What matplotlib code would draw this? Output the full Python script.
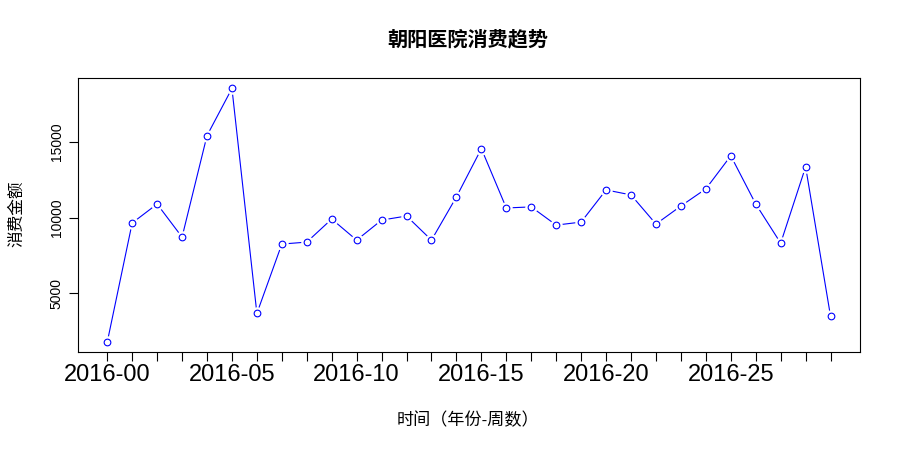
import matplotlib
matplotlib.use("Agg")
import matplotlib.pyplot as plt

plt.rcParams['font.family'] = ['Liberation Sans', 'Noto Sans CJK SC', 'DejaVu Sans']

# weekly spending, 2016 weeks 00..29
weeks = ["2016-%02d" % i for i in range(30)]
spend = [1780, 9640, 10890, 8710, 15400, 18510, 3680, 8250, 8380, 9900,
         8510, 9830, 10100, 8510, 11360, 14540, 10630, 10700, 9500, 9700,
         11820, 11490, 9570, 10760, 11890, 14070, 10890, 8310, 13340, 3480]
yticks = [5000, 10000, 15000]

fig = plt.figure(figsize=(9, 4.5), dpi=100)
ax = fig.add_axes([0.087, 0.217, 0.868, 0.609])

x = list(range(len(spend)))
ax.plot(x, spend, color='blue', lw=0.8, zorder=1)
# R type="b": gaps between line and points
ax.plot(x, spend, ls='none', marker='o', ms=9, mfc='white', mec='none', zorder=2)
ax.plot(x, spend, ls='none', marker='o', ms=4.8, mfc='white', mec='blue', mew=0.8, zorder=3)

lo, hi = min(spend), max(spend)
pad = (hi - lo) * 0.04
ax.set_ylim(lo - pad, hi + pad)
ax.set_xlim(-1.16, len(spend) - 1 + 1.16)

ax.set_xticks(x)
ax.set_xticklabels([w if i % 5 == 0 else "" for i, w in enumerate(weeks)], fontsize=17)
ax.set_yticks(yticks)
ax.set_yticklabels([str(v) for v in yticks], rotation=90, va='center', fontsize=10)
ax.tick_params(axis='both', length=6.5, width=0.8, color='black')
ax.tick_params(axis='x', pad=2)
ax.tick_params(axis='y', pad=4)
for s in ax.spines.values():
    s.set_linewidth(0.8)

fig.text(0.52, 1 - 40 / 450, "朝阳医院消费趋势", ha='center', va='center',
         fontsize=14.5, fontweight='bold')
fig.text(0.52, 1 - 420 / 450, "时间（年份-周数）", ha='center', va='center', fontsize=12.3)
fig.text(16.5 / 900, 0.525, "消费金额", ha='center', va='center', rotation=90, fontsize=12)

fig.savefig("out.png", dpi=100)
